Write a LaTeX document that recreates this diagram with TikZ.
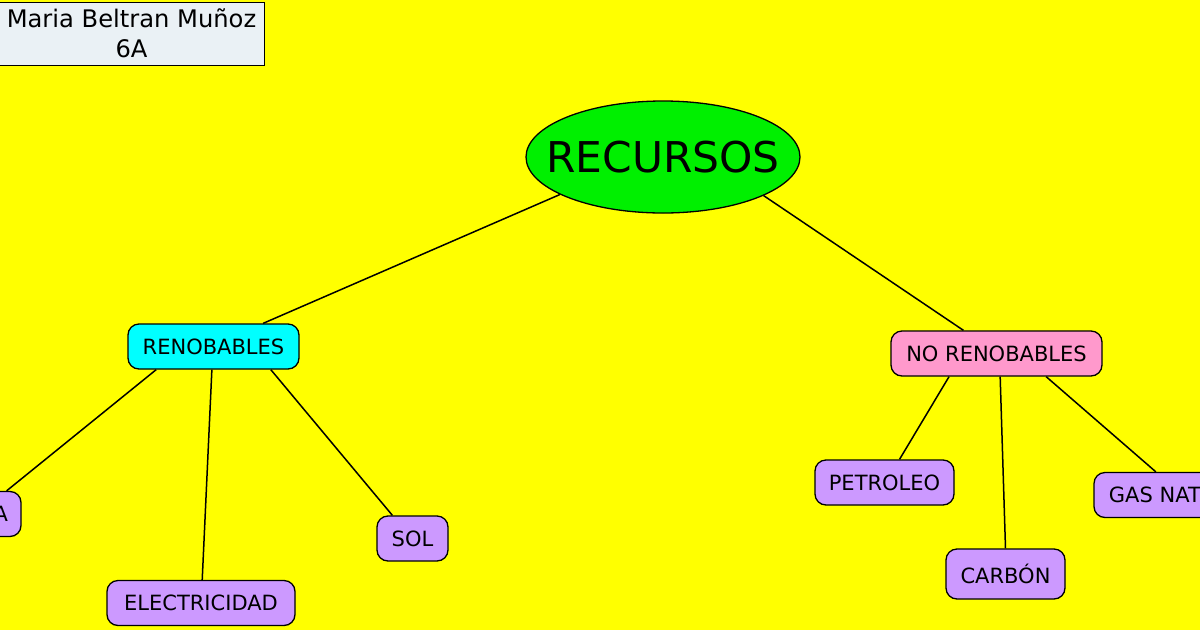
\documentclass[tikz,border=0pt]{standalone}
\usepackage{fontspec}
\setmainfont{DejaVu Sans}
\usetikzlibrary{shapes.geometric}

\definecolor{mapyellow}{HTML}{FFFF00}
\definecolor{mapgreen}{HTML}{00F000}
\definecolor{mapcyan}{HTML}{00FFFF}
\definecolor{mappink}{HTML}{FF99CC}
\definecolor{mappurple}{HTML}{CC99FF}
\definecolor{mapnote}{HTML}{EAF1F5}

\begin{document}
\begin{tikzpicture}[x=1pt,y=-1pt,
    concept/.style={draw=black,line width=1.3pt,rounded corners=11pt,inner sep=0pt,minimum height=45pt,font=\fontsize{21}{25}\selectfont},
    source/.style={concept,fill=mappurple},
    link/.style={line width=1.5pt}]
              \useasboundingbox (0,0) rectangle (1200,630);
              \clip (0,0) rectangle (1200,630);
              \fill [mapyellow] (0,0) rectangle (1200,630);

              \node [draw=black,line width=1pt,fill=mapnote,inner sep=0pt,minimum width=265pt,minimum height=63pt,align=center,font=\fontsize{24.2}{30}\selectfont] (autora) at (131.5,33.5) {Maria Beltran Muñoz\\6A};

              \node [ellipse,draw=black,line width=1.3pt,fill=mapgreen,inner sep=0pt,minimum width=274pt,minimum height=112pt,font=\fontsize{42.4}{50}\selectfont] (recursos) at (663,157) {\makebox[0pt]{RECURSOS}};

              \node [concept,fill=mapcyan,minimum width=171pt] (renobables) at (213.5,346.5) {RENOBABLES};
              \node [concept,fill=mappink,minimum width=211pt] (norenobables) at (996.5,353.5) {NO RENOBABLES};

              \node [source,minimum width=86pt] (agua) at (-22,514) {AGUA};
              \node [source,minimum width=188pt] (electricidad) at (201,603) {ELECTRICIDAD};
              \node [source,minimum width=71pt] (sol) at (412.5,538.5) {SOL};

              \node [source,minimum width=139pt] (petroleo) at (884.5,482.5) {PETROLEO};
              \node [source,minimum width=119pt,minimum height=50pt] (carbon) at (1005.5,574) {CARBÓN};
              \node [source,minimum width=177pt] (gas) at (1182.5,495) {GAS NATURAL};

              \draw [link] (recursos.200.8) -- (renobables.25);
              \draw [link] (recursos.-21) -- (norenobables.145);

              \draw [link] (renobables.202) -- (agua.39);
              \draw [link] (renobables.266) -- (electricidad.87);
              \draw [link] (renobables.-22) -- (sol.131);

              \draw [link] (norenobables.206) -- (petroleo.57);
              \draw [link] (norenobables.279) -- (carbon.90);
              \draw [link] (norenobables.-25) -- (gas.139);
            \end{tikzpicture}
\end{document}
